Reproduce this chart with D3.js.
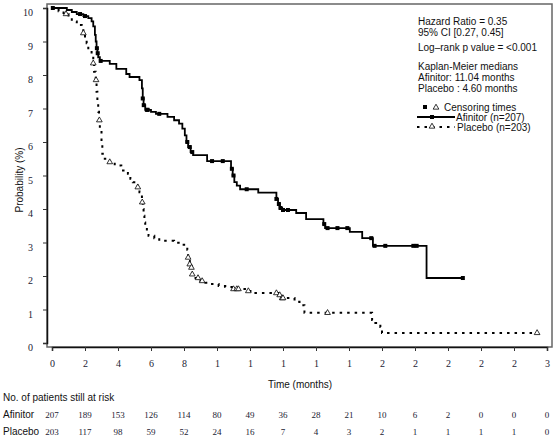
<!DOCTYPE html>
<html>
<head>
<meta charset="utf-8">
<script src="https://cdn.jsdelivr.net/npm/d3@7"></script>
<style>
  body { margin: 0; background: #fff; }
  svg { display: block; }
</style>
</head>
<body>
<svg id="chart" width="554" height="442"></svg>
<script>
// ---- Data ----
const xTickValues = [0,2,4,6,8,10,12,14,16,18,20,22,24,26,28,30];
const xTickLabels = ["0","2","4","6","8","1","1","1","1","1","2","2","2","2","2","3"];
const yTickValues = [0,10,20,30,40,50,60,70,80,90,100];
const yTickLabels = ["0","1","2","3","4","5","6","7","8","9","10"];

// Afinitor KM steps: time (months), survival (%)
const afinitorTimes = [0,0.9,1.2,1.5,1.9,2.2,2.4,2.5,2.6,2.65,2.7,2.75,2.8,2.9,3.5,3.9,4.5,4.7,5.3,5.45,5.5,5.55,5.65,6.0,6.3,7.0,7.4,7.7,7.9,8.05,8.15,8.25,8.4,8.55,9.4,10.85,10.95,11.05,11.2,11.4,12.5,13.6,13.7,13.8,13.95,14.8,15.4,16.45,16.55,18.05,18.8,19.45,22.7,24.9];
const afinitorSurv  = [100,99.4,98.8,98.2,97.6,97.0,96.0,94.5,92.0,90.0,88.0,86.5,85.3,84.2,83.3,81.8,80.3,79.4,78.5,76,73,71,69.6,69.0,68.4,67.5,66.5,65.5,64.0,62,60,58.5,57,56.1,54.3,52,50,48,47,45.9,44.9,43,41.5,40.3,39.7,38.8,37.0,35.5,34.3,33.2,31.3,29.0,19.4,19.4];
const afinitorCensor = [0.05,1.7,2.0,2.72,2.77,2.95,5.5,5.56,5.75,5.8,6.5,8.2,8.35,8.5,9.7,10.35,10.9,11.0,11.8,13.6,13.75,13.85,14.0,14.3,16.5,16.7,17.3,17.9,19.35,19.55,20.2,21.9,22.1,24.9];

// Placebo KM steps
const placeboTimes = [0,0.4,0.7,1.0,1.2,1.5,1.8,1.9,2.0,2.1,2.2,2.4,2.5,2.55,2.65,2.7,2.75,2.8,2.85,2.9,3.0,3.05,3.2,3.5,3.8,4.2,4.6,4.75,4.9,5.2,5.3,5.45,5.5,5.55,5.6,5.65,5.75,5.85,6.2,6.5,7.4,7.8,8.1,8.2,8.25,8.3,8.35,8.4,8.5,8.7,9.0,9.3,9.7,10.1,10.5,10.9,11.9,12.1,13.7,13.9,14.7,15.0,15.3,19.4,19.6,19.9,20.0,29.4];
const placeboSurv  = [100,99.0,98.2,97.0,96.0,94.9,93.7,92.5,91.0,89.5,87.5,85.5,83.5,81.0,78.5,75.0,72.5,69.0,66.5,63.5,59.5,56.5,55.0,54.0,53.0,51.5,50.5,49.0,48.0,46.5,45.0,42.0,40.0,38.0,36.0,34.0,33.0,32.0,31.3,30.5,29.9,29.3,28.7,27.8,25.5,24.5,23.5,22.5,20.5,19.4,18.5,18.0,17.6,17.0,16.7,16.1,15.5,14.9,14.3,13.4,12.3,11.3,9.0,6.9,6.0,4.8,3.0,3.0];
const placeboCensor = [0.85,1.9,2.5,2.67,2.87,3.5,5.2,5.47,8.25,8.35,8.45,8.5,8.85,9.1,11.0,11.2,11.3,11.9,13.6,13.8,13.95,14.0,16.7,29.4];

const riskRows = ["Afinitor","Placebo"];
const riskAfinitor = [207,189,153,126,114,80,49,36,28,21,10,6,2,0,0,0];
const riskPlacebo  = [203,117,98,59,52,24,16,7,4,3,2,1,1,1,1,0];

const legendText = ["Hazard Ratio = 0.35","95% CI [0.27, 0.45]","Log–rank p value = <0.001","Kaplan-Meier medians","Afinitor: 11.04 months","Placebo :  4.60 months"];

// ---- Chart ----
const svg = d3.select("#chart");
const x = d3.scaleLinear().domain([0,30]).range([52,547]);
const y = d3.scaleLinear().domain([0,100]).range([343,8]);
const serif = "'Liberation Serif', 'Times New Roman', serif";
const sans = "'Liberation Sans', Arial, sans-serif";

// frame
svg.append("rect").attr("x",47).attr("y",4).attr("width",505).attr("height",343)
  .attr("fill","none").attr("stroke","#666").attr("stroke-width",1.5);

// axes
const xAxis = svg.append("g").attr("transform","translate(0,347)")
  .call(d3.axisBottom(x).tickValues(xTickValues).tickSize(4).tickPadding(9)
    .tickFormat((d,i)=>xTickLabels[i]));
const yAxis = svg.append("g").attr("transform","translate(47,0)")
  .call(d3.axisLeft(y).tickValues(yTickValues).tickSize(4).tickPadding(10)
    .tickFormat((d,i)=>yTickLabels[i]));
[xAxis,yAxis].forEach(g=>{
  g.select(".domain").attr("stroke","#111").attr("stroke-width",1.5);
  g.selectAll(".tick line").attr("stroke","#333");
  g.selectAll(".tick text").attr("font-family",serif).attr("font-size",10).attr("fill","#223");
});
yAxis.selectAll(".tick text").attr("dy","0.75em");

// axis titles
svg.append("text").attr("x",300).attr("y",388).attr("text-anchor","middle")
  .attr("font-family",sans).attr("font-size",10).attr("fill","#111").text("Time (months)");
svg.append("text").attr("transform","translate(23,180) rotate(-90)").attr("text-anchor","middle")
  .attr("font-family",sans).attr("font-size",10).attr("fill","#111").text("Probability (%)");

// curves
const line = d3.line().curve(d3.curveStepAfter).x(d=>x(d[0])).y(d=>y(d[1]));
const afData = afinitorTimes.map((t,i)=>[t,afinitorSurv[i]]);
const plData = placeboTimes.map((t,i)=>[t,placeboSurv[i]]);
svg.append("path").datum(afData).attr("d",line).attr("fill","none")
  .attr("stroke","#000").attr("stroke-width",1.8);
svg.append("path").datum(plData).attr("d",line).attr("fill","none")
  .attr("stroke","#000").attr("stroke-width",2).attr("stroke-dasharray","2.5,5");

function survAt(times, surv, t){
  let s = surv[0];
  for (let i=0;i<times.length;i++){ if (times[i] <= t) s = surv[i]; else break; }
  return s;
}
// censor marks
svg.append("g").selectAll("rect").data(afinitorCensor).join("rect")
  .attr("x",d=>x(d)-2).attr("y",d=>y(survAt(afinitorTimes,afinitorSurv,d))-2)
  .attr("width",4).attr("height",4).attr("fill","#000");
const tri = d3.symbol().type(d3.symbolTriangle).size(14);
svg.append("g").selectAll("path").data(placeboCensor).join("path")
  .attr("d",tri)
  .attr("transform",d=>`translate(${x(d)},${y(survAt(placeboTimes,placeboSurv,d))})`)
  .attr("fill","#fff").attr("stroke","#000").attr("stroke-width",0.8);

// legend text
const lx = 418;
const ly = [25,36,51,70,81,92];
legendText.forEach((t,i)=>{
  svg.append("text").attr("x",lx).attr("y",ly[i]).attr("font-family",sans)
    .attr("font-size",10).attr("fill","#111").text(t);
});
// censoring legend
svg.append("rect").attr("x",423).attr("y",105).attr("width",4).attr("height",4).attr("fill","#000");
svg.append("path").attr("d",tri).attr("transform","translate(436,107.5)")
  .attr("fill","#fff").attr("stroke","#000").attr("stroke-width",0.8);
svg.append("text").attr("x",444).attr("y",111).attr("font-family",sans).attr("font-size",10).attr("fill","#111").text("Censoring times");
svg.append("line").attr("x1",417).attr("x2",455).attr("y1",117).attr("y2",117).attr("stroke","#000").attr("stroke-width",1.8);
svg.append("rect").attr("x",430).attr("y",115).attr("width",4).attr("height",4).attr("fill","#000");
svg.append("text").attr("x",456).attr("y",121).attr("font-family",sans).attr("font-size",10).attr("fill","#111").text("Afinitor (n=207)");
svg.append("line").attr("x1",417).attr("x2",455).attr("y1",127).attr("y2",127).attr("stroke","#000").attr("stroke-width",2).attr("stroke-dasharray","2.5,5");
svg.append("path").attr("d",tri).attr("transform","translate(432,126.5)")
  .attr("fill","#fff").attr("stroke","#000").attr("stroke-width",0.8);
svg.append("text").attr("x",457).attr("y",131).attr("font-family",sans).attr("font-size",10).attr("fill","#111").text("Placebo (n=203)");

// at risk table
svg.append("text").attr("x",3).attr("y",401).attr("font-family",sans).attr("font-size",10).attr("fill","#111").text("No. of patients still at risk");
const riskData = [riskAfinitor, riskPlacebo];
const rowY = [418,435];
riskRows.forEach((r,ri)=>{
  svg.append("text").attr("x",3).attr("y",rowY[ri]).attr("font-family",sans).attr("font-size",10).attr("fill","#111").text(r);
  svg.append("g").selectAll("text").data(riskData[ri]).join("text")
    .attr("x",(d,i)=>x(xTickValues[i])).attr("y",rowY[ri]).attr("text-anchor","middle")
    .attr("font-family",serif).attr("font-size",9).attr("fill","#223").text(d=>d);
});
</script>
</body>
</html>
